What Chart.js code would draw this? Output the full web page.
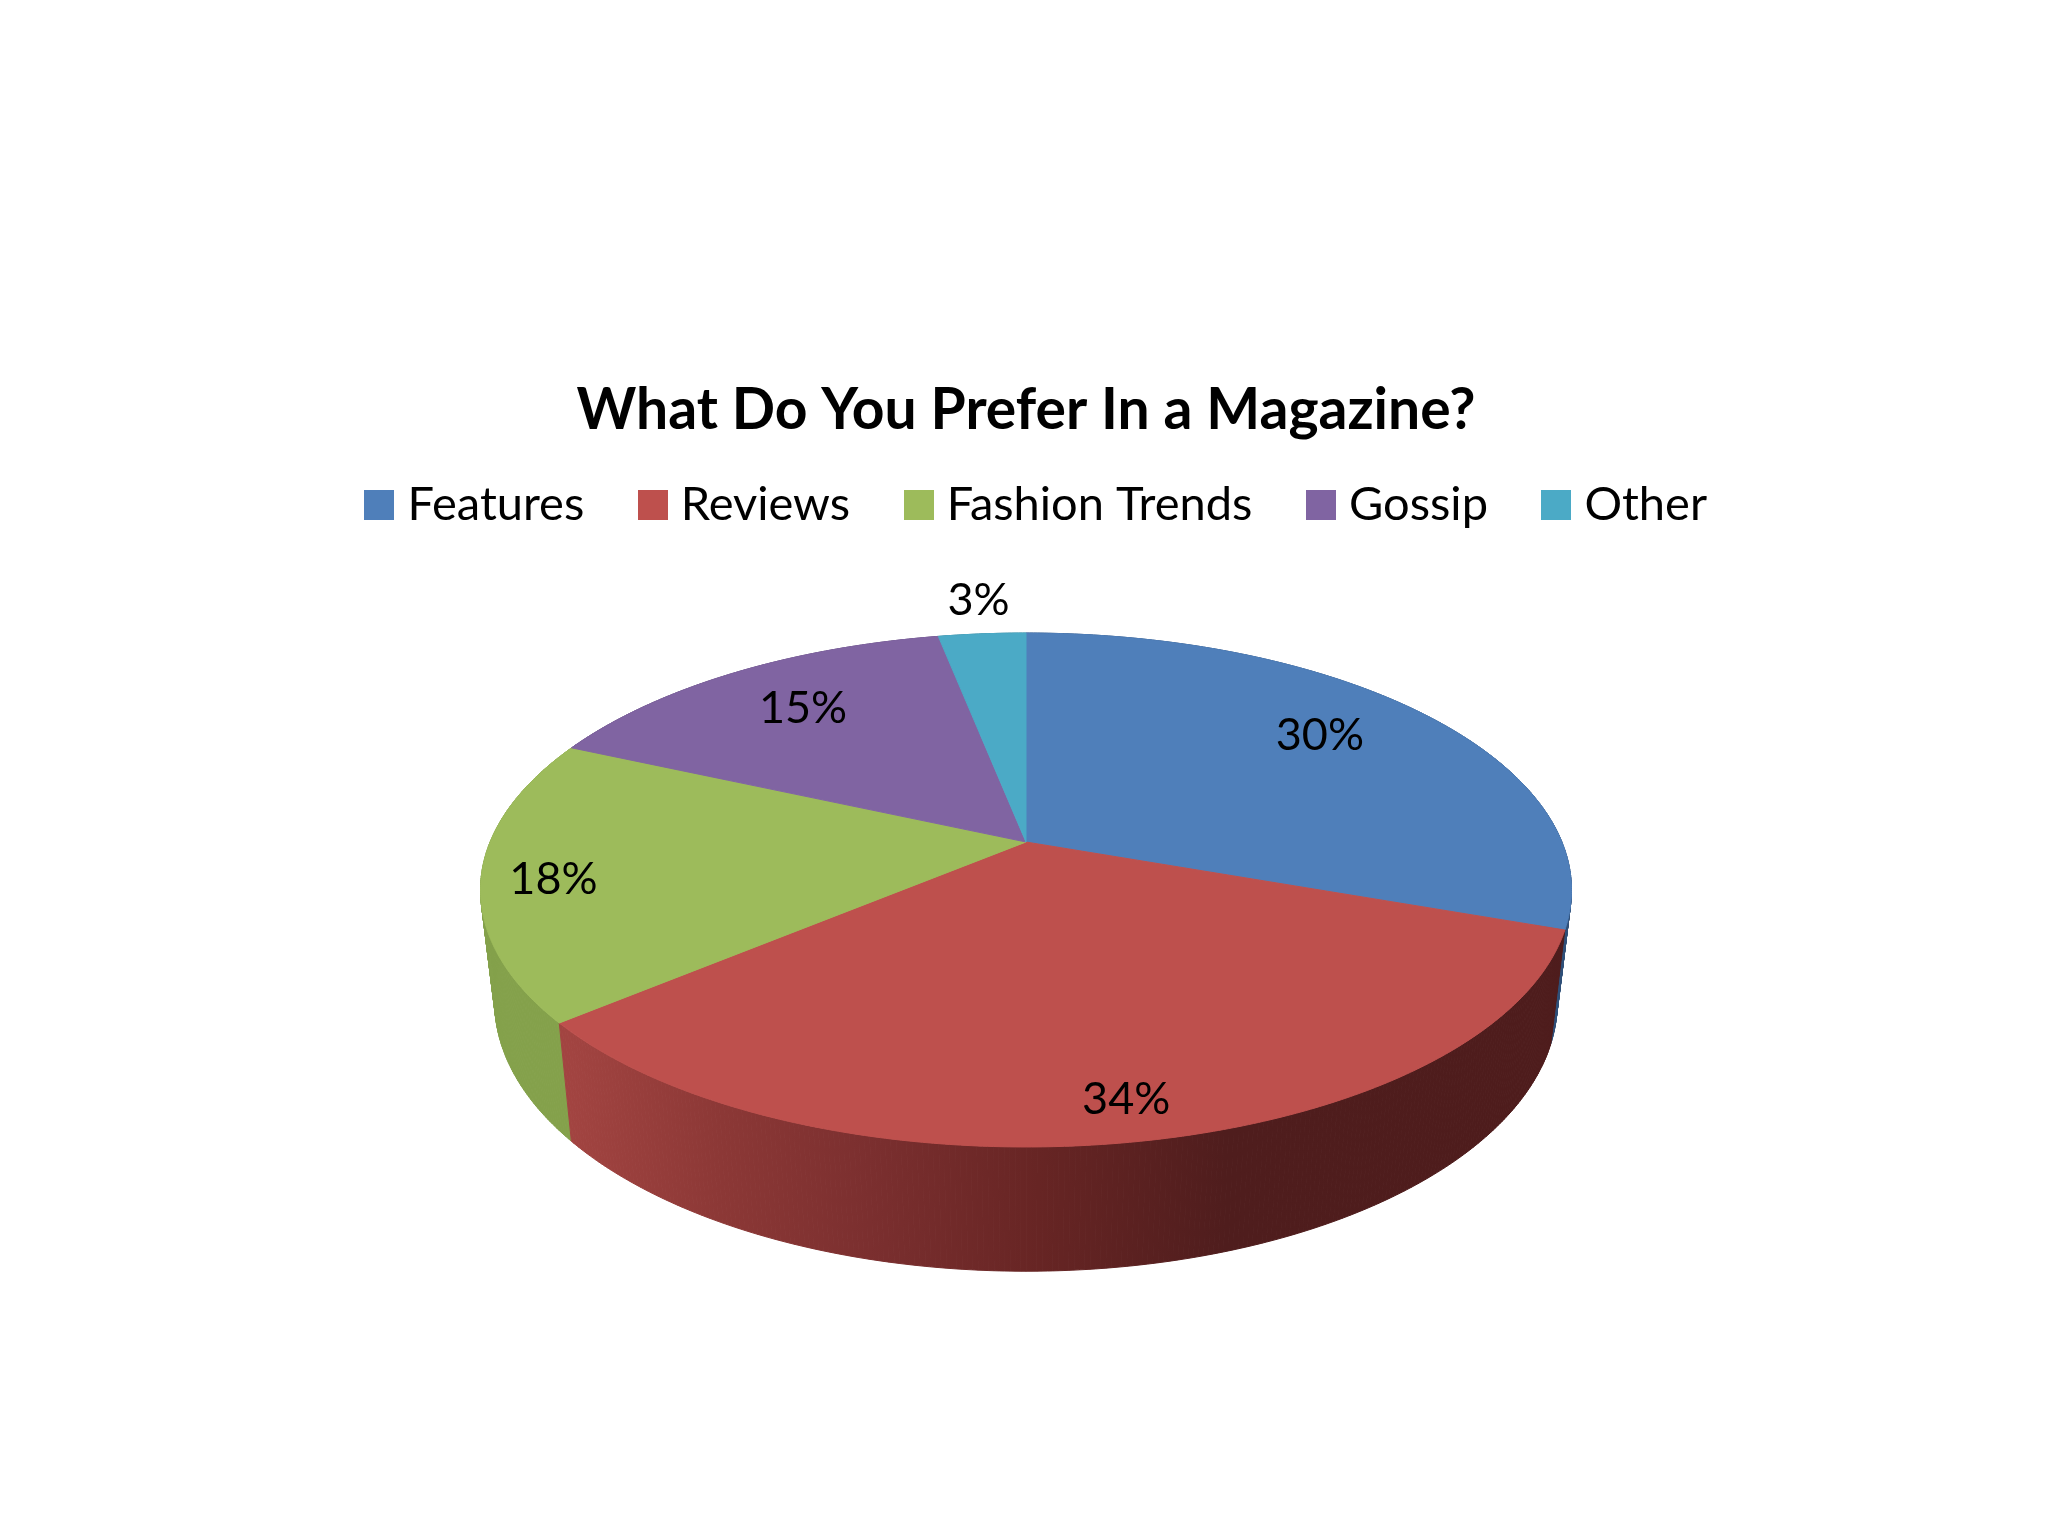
<!DOCTYPE html>
<html>
<head>
<meta charset="utf-8">
<title>What Do You Prefer In a Magazine?</title>
<script src="https://cdn.jsdelivr.net/npm/chart.js@4"></script>
<style>
    html, body { margin: 0; padding: 0; background: #fff; }
    canvas { display: block; }
</style>
</head>
<body>
<canvas id="magazineChart" width="2048" height="1536"></canvas>
<script>
const chartTitle = 'What Do You Prefer In a Magazine?';
const categories = ['Features', 'Reviews', 'Fashion Trends', 'Gossip', 'Other'];
const shares = [30.4, 33.5, 17.8, 15.2, 3.1];
const percentLabels = ['30%', '34%', '18%', '15%', '3%'];

const topColors = ['#4f7fba', '#be504d', '#9dbb5b', '#8064a2', '#4baac6'];
const sideColors = ['#2f4f78', '#7a2e2e', '#84a14b', '#5b4674', '#357a8e'];
const labelRadius = [0.76, 0.88, 0.87, 0.76, 1.2];
const labelAngleShift = [-3, 0, -1.5, 1, 0.4];

const FONT = 'Lato, "Open Sans", sans-serif';
const LABEL_SIZE = 45;
const LEGEND_SHIFT = 17, TITLE_SHIFT = 2;

// perspective of the tilted disc, apex of the slices is at (CX, CY)
const CX = 1026, CY = 842;
const RX = 535.9, RY = 248, TILT = 0.1868;
const BOTTOM_CY = 951.5, BOTTOM_RX = RX * 0.974, BOTTOM_RY = 260;

function project(angle, r, cy = CY, rx = RX, ry = RY) {
    const u = Math.cos(angle) * r;
    const v = Math.sin(angle) * r;
    const w = 1 - TILT * v;
    return { x: CX + rx * u / w, y: cy + ry * v / w };
}

function rimPoints(arc, cy, rx, ry) {
    const pts = [];
    const steps = Math.max(4, Math.ceil((arc.endAngle - arc.startAngle) * 120));
    for (let i = 0; i <= steps; i++) {
        const a = arc.startAngle + (arc.endAngle - arc.startAngle) * i / steps;
        pts.push(project(a, 1, cy, rx, ry));
    }
    return pts;
}

// the side of the big red slice gets darker from left to right
function sideFill(ctx, index, top, bottom) {
    if (index !== 1) return sideColors[index];
    const x0 = bottom[bottom.length - 1].x;
    const x1 = top[0].x;
    const g = ctx.createLinearGradient(x0, 0, x1, 0);
    g.addColorStop(0, '#a24441');
    g.addColorStop(0.15, '#8c3836');
    g.addColorStop(0.3, '#7b2f2f');
    g.addColorStop(0.47, '#672524');
    g.addColorStop(0.66, '#4f1d1d');
    g.addColorStop(1, '#4e1c1c');
    return g;
}

function drawSide(ctx, arc, index) {
    const top = rimPoints(arc, CY, RX, RY);
    const bottom = rimPoints(arc, BOTTOM_CY, BOTTOM_RX, BOTTOM_RY);
    const fill = sideFill(ctx, index, top, bottom);
    ctx.fillStyle = fill;
    ctx.strokeStyle = fill;
    ctx.lineWidth = 1;
    for (let i = 0; i < top.length - 1; i++) {
        ctx.beginPath();
        ctx.moveTo(top[i].x, top[i].y);
        ctx.lineTo(top[i + 1].x, top[i + 1].y);
        ctx.lineTo(bottom[i + 1].x, bottom[i + 1].y);
        ctx.lineTo(bottom[i].x, bottom[i].y);
        ctx.closePath();
        ctx.fill();
        ctx.stroke();
    }
}

function drawTop(ctx, arc, index) {
    const rim = rimPoints(arc, CY, RX, RY);
    ctx.fillStyle = topColors[index];
    ctx.strokeStyle = topColors[index];
    ctx.lineWidth = 1;
    ctx.beginPath();
    ctx.moveTo(CX, CY);
    rim.forEach(p => ctx.lineTo(p.x, p.y));
    ctx.closePath();
    ctx.fill();
    ctx.stroke();
}

// draws the library's arcs (their computed angles) as a 3D disc
const tiltedPie = {
    id: 'tiltedPie',
    afterLayout(chart) {
        chart.legend.left += LEGEND_SHIFT;
        chart.legend.right += LEGEND_SHIFT;
        chart.titleBlock.left += TITLE_SHIFT;
        chart.titleBlock.right += TITLE_SHIFT;
    },
    beforeDatasetDraw(chart, args) {
        const ctx = chart.ctx;
        const arcs = args.meta.data;
        ctx.save();
        // rear faces first so the front ones land on top
        [3, 4, 0, 2, 1].forEach(i => drawSide(ctx, arcs[i], i));
        arcs.forEach((arc, i) => drawTop(ctx, arc, i));
        ctx.restore();
        return false;
    },
    afterDatasetsDraw(chart) {
        const ctx = chart.ctx;
        const arcs = chart.getDatasetMeta(0).data;
        ctx.save();
        ctx.font = `${LABEL_SIZE}px ${FONT}`;
        ctx.fillStyle = '#000';
        ctx.textAlign = 'center';
        ctx.textBaseline = 'middle';
        arcs.forEach((arc, i) => {
            const mid = (arc.startAngle + arc.endAngle) / 2 + labelAngleShift[i] * Math.PI / 180;
            const p = project(mid, labelRadius[i]);
            ctx.fillText(percentLabels[i], p.x, p.y + 1);
        });
        ctx.restore();
    }
};

function legendSwatch(color) {
    const c = document.createElement('canvas');
    c.width = 30;
    c.height = 30;
    const g = c.getContext('2d');
    g.fillStyle = color;
    g.fillRect(0, 0, 30, 30);
    return c;
}

new Chart(document.getElementById('magazineChart'), {
    type: 'pie',
    data: {
        labels: categories,
        datasets: [{ data: shares, backgroundColor: topColors, borderWidth: 0 }]
    },
    plugins: [tiltedPie],
    options: {
        responsive: false,
        animation: false,
        devicePixelRatio: 1,
        plugins: {
            tooltip: { enabled: false },
            title: {
                display: true,
                text: chartTitle,
                color: '#000',
                font: { family: FONT, size: 57, weight: 'bold', lineHeight: 1.2 },
                padding: { top: 376, bottom: -27 }
            },
            legend: {
                position: 'top',
                labels: {
                    color: '#000',
                    font: { family: FONT, size: 47 },
                    usePointStyle: true,
                    pointStyleWidth: 9,
                    padding: 64,
                    generateLabels: chart => categories.map((name, i) => ({
                        text: name,
                        fontColor: '#000',
                        pointStyle: legendSwatch(topColors[i]),
                        index: i
                    }))
                }
            }
        }
    }
});
</script>
</body>
</html>
